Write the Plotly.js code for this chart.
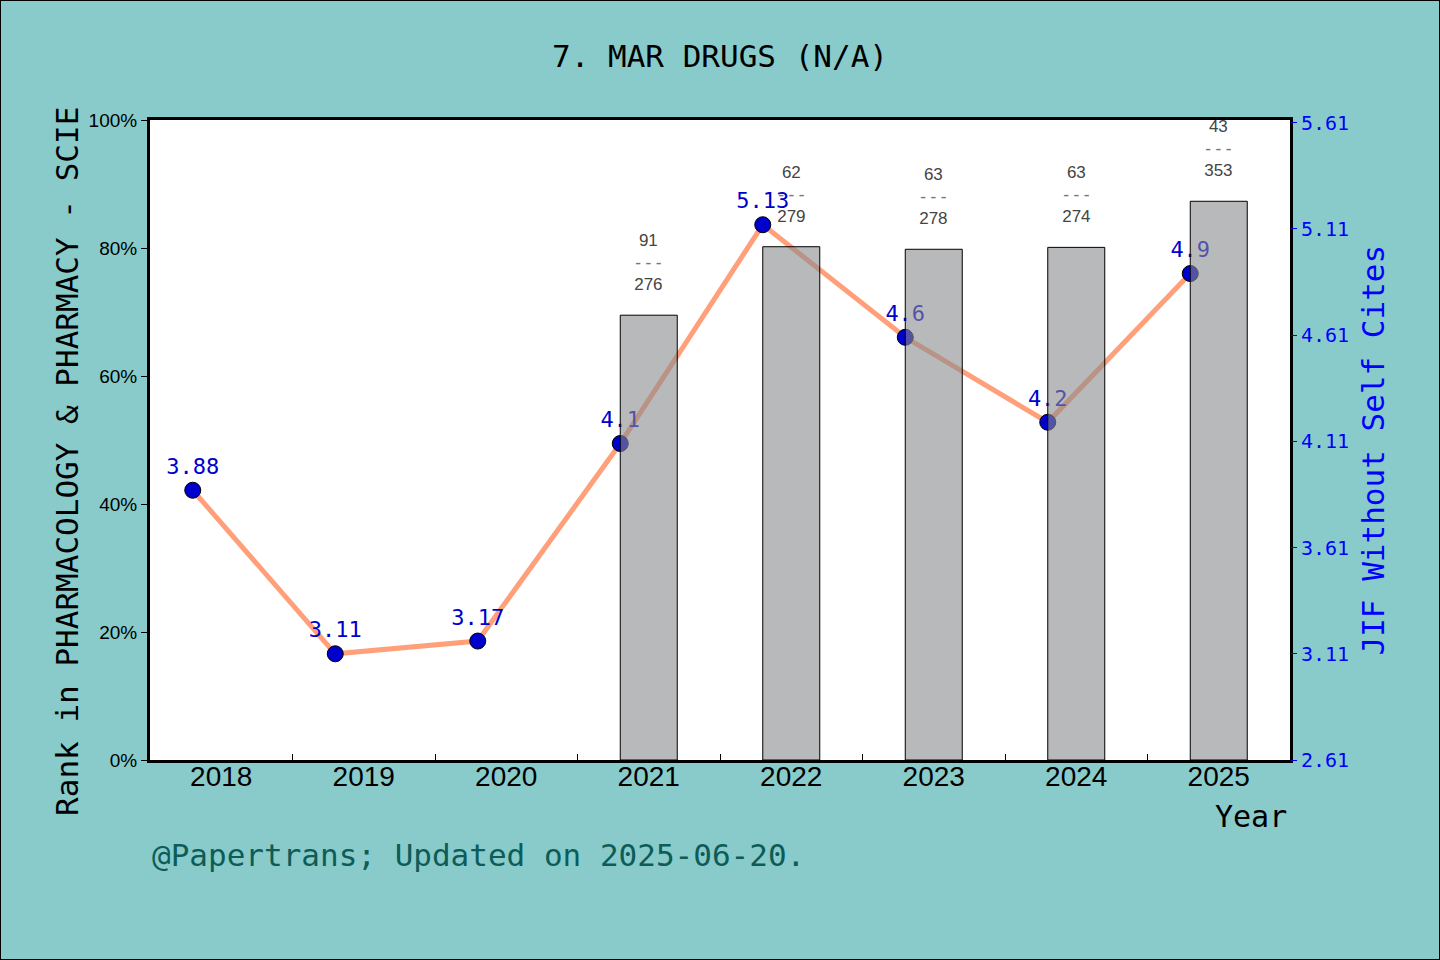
<!DOCTYPE html>
<html>
<head>
<meta charset="utf-8">
<script src="https://cdn.plot.ly/plotly-3.0.1.min.js"></script>
<style>
  body { margin: 0; padding: 0; background: #88cbca; }
  #chart { width: 1438px; height: 958px; border: 1px solid #000; }
</style>
</head>
<body>
<div id="chart"></div>
<script>
// years on the x axis
var years = ["2018", "2019", "2020", "2021", "2022", "2023", "2024", "2025"];

// JIF without self cites (right axis)
var jif = [3.88, 3.11, 3.17, 4.1, 5.13, 4.6, 4.2, 4.9];

// rank percentile bars (left axis), no bar before 2021
var rankPct = [null, null, null, 69.5, 80.2, 79.8, 80.1, 87.3];
var rankPos = [null, null, null, 91, 62, 63, 63, 43];
var rankTotal = [null, null, null, 276, 279, 278, 274, 353];

var jifTicks = [2.61, 3.11, 3.61, 4.11, 4.61, 5.11, 5.61];

var mono = "DejaVu Sans Mono, Liberation Mono, monospace";
var sans = "Liberation Sans, Arial, sans-serif";

var lineTrace = {
    x: years,
    y: jif,
    xaxis: "x",
    yaxis: "y",
    type: "scatter",
    mode: "lines+markers+text",
    text: jif.map(String),
    textposition: "top center",
    textfont: { family: mono, size: 22, color: "#0000cd" },
    line: { color: "#ffa07a", width: 5 },
    marker: { size: 16, color: "#0000cd", line: { color: "#000", width: 1 } },
    hoverinfo: "skip",
    cliponaxis: false
};

var barTrace = {
    x: years,
    y: rankPct,
    xaxis: "x2",
    yaxis: "y2",
    type: "bar",
    width: 0.4,
    marker: { color: "rgba(137,139,142,0.6)", line: { color: "#000", width: 1 } },
    hoverinfo: "skip"
};

// rank / total labels above each bar (category index on x2)
var notes = [];
years.forEach(function (yr, i) {
    if (rankPct[i] == null) return;
    notes.push({
        x: i, y: rankPct[i], xref: "x2", yref: "y2",
        text: rankPos[i] + "<br><span style='color:#777;font-family:DejaVu Sans Mono'>---</span><br>" + rankTotal[i],
        showarrow: false, xanchor: "center", yanchor: "bottom", yshift: 19,
        font: { family: sans, size: 17, color: "#444" }
    });
});

notes.push(
    { text: "Rank in PHARMACOLOGY & PHARMACY - SCIE", xref: "paper", yref: "paper",
      x: -0.073, y: 0.467, xanchor: "center", yanchor: "middle", textangle: -90, showarrow: false,
      font: { family: mono, size: 31, color: "#000" } },
    { text: "JIF Without Self Cites", xref: "paper", yref: "paper",
      x: 1.073, y: 0.484, xanchor: "center", yanchor: "middle", textangle: -90, showarrow: false,
      font: { family: mono, size: 31, color: "#0000ff" } },
    { text: "Year", xref: "paper", yref: "paper", x: 0.999, y: -0.089,
      xanchor: "right", yanchor: "middle", showarrow: false,
      font: { family: mono, size: 30, color: "#000" } },
    { text: "@Papertrans; Updated on 2025-06-20.", xref: "paper", yref: "paper",
      x: 0, y: -0.148, xanchor: "left", yanchor: "middle", showarrow: false,
      font: { family: mono, size: 31, color: "#0d5c57" } }
);

var layout = {
    width: 1438,
    height: 958,
    paper_bgcolor: "#88cbca",
    plot_bgcolor: "#ffffff",
    margin: { l: 149, r: 149, t: 119, b: 199 },
    showlegend: false,
    title: {
        text: "7. MAR DRUGS (N/A)",
        x: 0.5, xref: "container",
        y: 1 - 55 / 958, yref: "container", yanchor: "middle",
        font: { family: mono, size: 31, color: "#000" }
    },
    // line axis, shifted so points sit at left edge of bars
    xaxis: {
        type: "category",
        range: [-0.3, 7.7],
        visible: false,
        fixedrange: true
    },
    yaxis: {
        side: "right",
        range: [2.61, 5.623],
        tickvals: jifTicks,
        ticktext: jifTicks.map(function (v) { return v.toFixed(2); }),
        ticks: "outside",
        ticklen: 6,
        tickcolor: "#0000ff",
        tickfont: { family: mono, size: 20, color: "#0000ff" },
        showgrid: false,
        zeroline: false,
        showline: false
    },
    xaxis2: {
        type: "category",
        overlaying: "x",
        range: [-0.5, 7.5],
        tickson: "boundaries",
        ticks: "inside",
        ticklen: 6,
        tickcolor: "#000",
        ticklabelstandoff: -11,
        tickfont: { family: sans, size: 28, color: "#000" },
        showline: true,
        linewidth: 3,
        linecolor: "#000",
        mirror: true,
        showgrid: false
    },
    yaxis2: {
        overlaying: "y",
        anchor: "x2",
        side: "left",
        range: [0, 100],
        dtick: 20,
        ticksuffix: "%",
        ticks: "outside",
        ticklen: 6,
        tickcolor: "#000",
        tickfont: { family: sans, size: 19, color: "#000" },
        showline: true,
        linewidth: 3,
        linecolor: "#000",
        mirror: true,
        showgrid: false,
        zeroline: false
    },
    annotations: notes
};

Plotly.newPlot("chart", [lineTrace, barTrace], layout, { displayModeBar: false, staticPlot: true });
</script>
</body>
</html>
